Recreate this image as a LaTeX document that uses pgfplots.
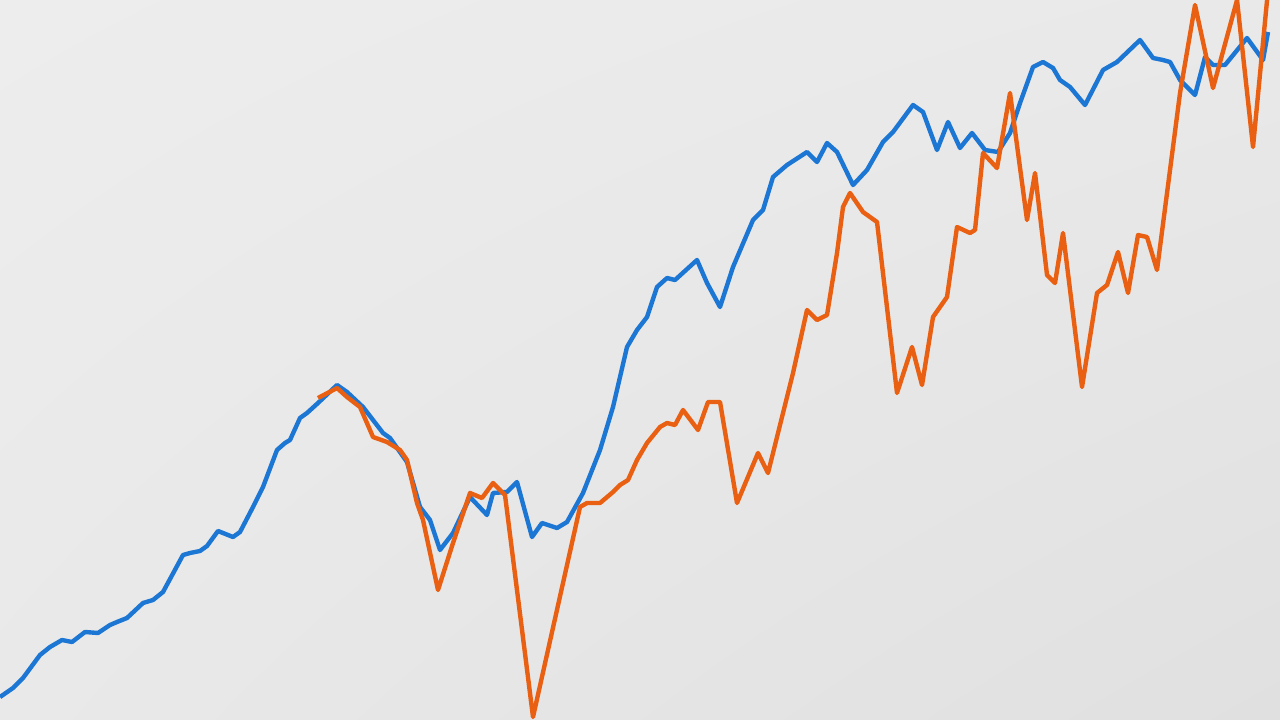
\documentclass[border=0pt]{standalone}
\usepackage{pgfplots}
\pgfplotsset{compat=1.18}
\usetikzlibrary{shadings}
\definecolor{lineblue}{RGB}{28,118,212}
\definecolor{lineorange}{RGB}{234,96,18}
\definecolor{bglight}{RGB}{237,237,237}
\definecolor{bgmid}{RGB}{233,233,233}
\definecolor{bgdark}{RGB}{224,224,224}
\begin{document}
\begin{tikzpicture}
\begin{axis}[
  scale only axis,
  width=12.8cm, height=7.2cm,
  xmin=0, xmax=1280, ymin=0, ymax=720,
  y dir=reverse,
  hide axis,
  clip=true,
  ]
  % background
  \shade[upper left=bglight, upper right=bgmid, lower left=bgmid, lower right=bgdark]
    (axis cs:0,0) rectangle (axis cs:1280,720);

  % blue series
  \addplot[color=lineblue, line width=1.25pt, line join=round, no markers] coordinates {
    (0,697) (13,688) (23,678) (40,655) (50,647) (62,640) (72,642) (85,632)
    (98,633) (110,625) (117,622) (127,618) (143,603) (153,600) (163,592)
    (183,555) (190,553) (200,551) (207,546) (218,531) (233,537) (240,532)
    (253,507) (263,487) (277,450) (285,443) (290,440) (300,418) (307,413)
    (318,403) (337,385) (347,392) (363,407) (383,433) (390,438) (407,462)
    (420,507) (430,520) (440,550) (453,533) (470,497) (487,515) (493,493)
    (507,492) (517,482) (532,537) (542,523) (557,528) (567,522) (583,493)
    (600,450) (613,407) (627,347) (637,330) (647,317) (657,287) (667,278)
    (675,280) (697,260) (707,283) (720,307) (733,267) (753,220) (763,210)
    (773,177) (787,165) (807,152) (817,162) (827,143) (837,152) (853,185)
    (867,170) (883,142) (893,132) (913,105) (923,112) (937,150) (948,122)
    (960,148) (972,133) (985,150) (998,152) (1010,133) (1020,103) (1033,67)
    (1043,62) (1053,68) (1060,80) (1070,87) (1085,105) (1103,70) (1117,62)
    (1140,40) (1153,58) (1163,60) (1170,62) (1180,80) (1195,95) (1205,57)
    (1213,65) (1225,65) (1247,38) (1263,60) (1268,32)
  };

  % orange series
  \addplot[color=lineorange, line width=1.25pt, line join=round, no markers] coordinates {
    (318,398) (337,388) (347,397) (360,407) (373,437) (387,442) (400,450)
    (407,460) (417,503) (423,520) (438,590) (453,543) (470,493) (482,498)
    (493,483) (505,495) (533,717) (580,507) (587,503) (600,503) (613,492)
    (620,485) (628,480) (637,460) (647,443) (660,427) (667,423) (675,425)
    (683,410) (698,430) (708,402) (720,402) (737,503) (758,453) (768,473)
    (793,373) (807,310) (817,320) (827,315) (837,253) (843,207) (850,193)
    (863,212) (877,222) (897,393) (912,347) (922,385) (933,317) (947,297)
    (957,227) (970,233) (975,230) (983,153) (997,168) (1010,93) (1027,220)
    (1035,173) (1047,275) (1055,283) (1063,233) (1082,387) (1097,293)
    (1107,285) (1118,252) (1128,293) (1138,235) (1147,237) (1157,270)
    (1180,93) (1195,5) (1213,88) (1237,0) (1253,147) (1268,-10)
  };
\end{axis}
\end{tikzpicture}
\end{document}
